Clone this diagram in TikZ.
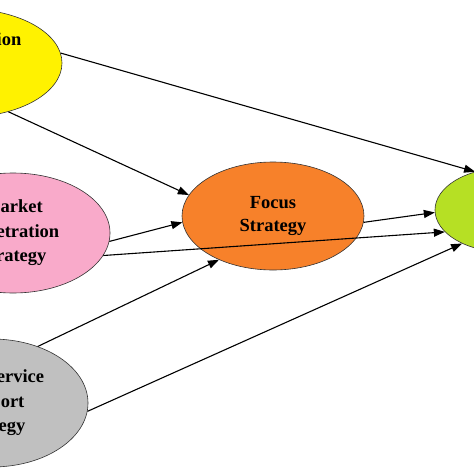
\documentclass[tikz,border=0pt]{standalone}
\usepackage{fontspec}
\setmainfont{Liberation Serif}
\usepackage{tikz}
\usetikzlibrary{shapes.geometric, arrows.meta}

\definecolor{diffyellow}{RGB}{255,242,0}
\definecolor{mktpink}{RGB}{249,170,202}
\definecolor{focusorange}{RGB}{247,129,42}
\definecolor{perfgreen}{RGB}{182,224,36}
\definecolor{svcgray}{RGB}{192,192,192}

\tikzset{
  strat/.style={ellipse, draw=black!80, line width=0.6pt, inner sep=0pt,
                align=center, font=\fontsize{18.5}{24.5}\selectfont\bfseries},
  link/.style={line width=1.1pt, -{Triangle[length=11pt,width=8pt]}}
}

\begin{document}
\begin{tikzpicture}[x=1pt,y=-1pt]
                      \useasboundingbox (0,0) rectangle (474,474);
                      \clip (0,0) rectangle (474,474);
                      \node[strat, fill=diffyellow, minimum width=192pt, minimum height=108pt,
                            label={[align=center, font=\fontsize{18.5}{24.5}\selectfont\bfseries, yshift=10pt, xshift=-3pt]center:Differentiation\\Strategy}] (diff) at (-34,63) {};
                      \node[strat, fill=mktpink, minimum width=194pt, minimum height=120pt] (mkt) at (13,233) {Market\\Penetration\\Strategy};
                      \node[strat, fill=svcgray, minimum width=192pt, minimum height=128pt] (svc) at (-8,403) {After Service\\Support\\Strategy};
                      \node[strat, fill=focusorange, minimum width=182pt, minimum height=108pt] (focus) at (273,216) {Focus\\[-1pt]Strategy};
                      \node[strat, fill=perfgreen, minimum width=140pt, minimum height=84pt] (perf) at (505,210) {};
                      \draw[link] (diff.6.6) -- (perf.128.5);
                      \draw[link] (diff.-49) -- (focus.166.5);
                      \draw[link] (mkt.-5.5) -- (focus.-176.2);
                      \draw[link] (mkt.-14.6) -- (perf.200.4);
                      \draw[link] (focus.-4.4) -- (perf.182.5);
                      \draw[link] (svc.51) -- (focus.219.3);
                      \draw[link] (svc.-5.5) -- (perf.218.3);
                  \end{tikzpicture}
\end{document}
